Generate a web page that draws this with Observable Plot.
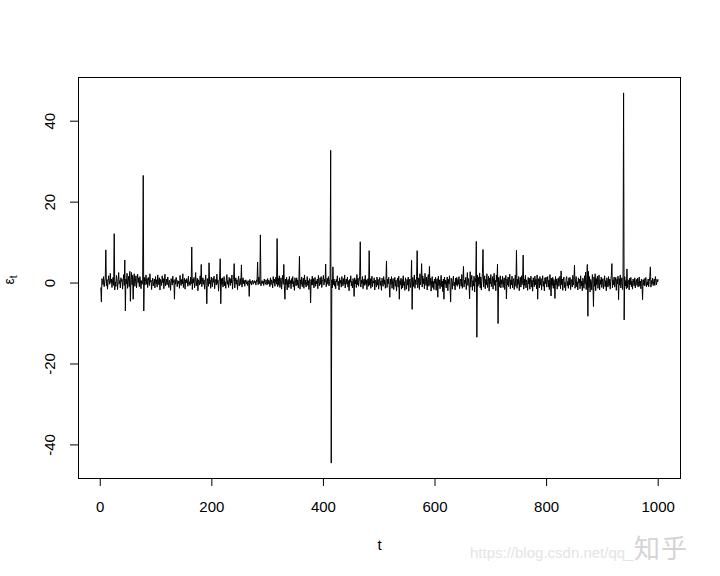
<!DOCTYPE html>
<html><head><meta charset="utf-8">
<script src="https://cdn.jsdelivr.net/npm/d3@7"></script>
<script src="https://cdn.jsdelivr.net/npm/@observablehq/plot@0.6"></script>
<style>
body{margin:0;background:#fff;}
#chart{position:relative;width:720px;height:576px;overflow:hidden;}
.wm1{position:absolute;left:470px;top:544px;font:15px "Liberation Sans",Arial,sans-serif;color:#e4e4e4;white-space:nowrap;}
.wm2{position:absolute;left:634px;top:528px;font:26px "Noto Sans CJK SC",sans-serif;color:#d4d4d4;white-space:nowrap;letter-spacing:1px;}
</style>
</head><body><div id="chart"></div>
<script>
// epsilon_t values, t = 1..1000
const eps = [
-1.2,-4.7,1.1,0.6,-0.4,1.6,-0.9,0.3,1.2,8.2,-0.7,0.9,-1.5,0.2,1.8,0.6,-0.3,2.4,0.1,1.0,
-1.1,0.5,1.4,-0.6,12.2,-1.7,0.3,-0.8,1.9,0.8,-1.6,0.4,2.6,-0.2,0.6,-1.2,1.3,0.4,0.9,-1.5,
0.7,2.1,-0.6,5.7,-6.9,1.0,-0.2,2.4,-1.3,0.4,1.7,-0.9,2.9,-4.5,0.8,2.6,-0.4,1.9,-4.0,1.2,
2.3,-0.8,0.5,1.8,-1.2,0.7,2.2,0.1,1.3,-0.9,1.6,0.5,-1.4,0.6,-0.3,0.5,26.6,-6.9,1.4,-0.5,
0.4,2.0,-0.3,1.1,-1.1,1.4,0.6,-0.6,2.3,0.2,0.7,-1.6,0.3,1.2,-0.7,0.2,1.0,-1.2,1.6,-0.2,
0.8,-1.0,2.0,0.5,-0.4,1.3,-1.7,0.9,0.4,-0.6,1.8,0.1,1.1,-1.4,0.5,2.2,-0.7,-0.2,1.0,-0.4,
1.5,0.2,-1.1,0.7,0.3,-1.8,1.1,0.5,-0.5,1.7,0.1,0.6,-4.0,0.9,-0.3,1.4,0.4,-0.9,0.6,-0.1,
0.5,-1.3,1.9,0.3,-0.6,0.9,-0.2,2.3,-1.1,0.4,1.2,-1.5,0.8,0.0,1.1,0.6,-0.8,1.7,-0.4,0.3,
-0.6,1.5,-0.2,8.9,-1.6,1.0,0.1,1.4,-1.2,0.5,2.6,-0.7,0.4,1.2,-1.9,0.8,0.3,-0.5,1.8,-0.2,
4.6,-0.9,0.5,1.3,-0.3,0.8,-1.5,0.2,2.0,-0.6,-5.1,1.1,0.4,-0.8,5.0,-0.2,0.8,-1.3,1.5,0.3,
-0.9,1.2,0.2,1.7,-1.4,0.5,0.9,-0.5,2.2,-0.1,0.7,-2.0,0.3,1.5,6.0,-5.1,1.1,-0.4,1.3,-1.0,
0.4,1.6,-0.7,0.3,-1.3,1.0,2.1,-0.3,0.6,-1.1,1.4,0.5,-0.6,1.1,0.0,2.0,-1.5,0.5,0.9,4.8,
-1.2,0.3,1.3,-0.3,0.8,-1.6,0.5,1.7,-0.7,0.2,1.1,-0.4,4.5,-1.0,0.5,1.3,-0.2,0.7,-0.8,0.2,
0.8,-0.2,0.4,-0.6,0.6,0.1,-3.3,0.9,-0.1,0.5,-0.5,0.3,0.7,-0.3,0.2,0.6,0.0,0.4,-0.5,0.8,
0.3,5.2,-0.4,1.5,0.5,-0.2,11.9,-0.7,0.4,0.6,-0.1,0.5,-0.6,1.0,0.2,-0.3,0.8,0.3,-0.5,1.1,
-0.2,0.7,0.4,-0.9,1.3,-0.4,0.8,0.3,-1.2,1.6,0.0,1.0,-0.8,0.5,1.5,-0.3,11.0,-0.9,1.2,-0.5,
1.8,-1.1,0.3,1.3,-1.5,0.5,1.9,-0.3,4.6,-0.7,-4.0,1.0,-0.4,1.4,-1.7,0.6,0.9,-1.1,1.6,-0.2,
0.6,-1.4,1.1,-0.2,1.6,-0.9,0.4,-1.8,1.3,0.2,-0.7,1.3,-0.5,0.8,-1.2,0.5,6.6,-1.5,0.8,-0.3,
1.5,-0.9,0.3,1.2,-1.3,2.0,-0.4,0.7,-1.0,0.4,1.6,-0.6,0.6,-1.6,1.1,0.3,-4.9,0.9,-0.5,1.7,
-0.5,1.1,-1.2,0.4,1.4,-0.8,0.5,-0.2,1.0,-1.4,1.9,0.2,-0.7,1.3,-0.3,1.6,-1.1,0.4,0.9,1.9,
-0.5,1.0,0.2,4.7,-0.9,0.6,1.2,-0.3,1.6,-0.7,0.4,1.3,32.8,-44.5,0.8,-1.2,4.0,-0.4,1.0,-0.8,
0.5,-1.4,0.9,0.3,1.8,-0.6,0.4,-1.7,1.3,-0.1,0.7,-1.0,1.6,0.4,-0.7,1.1,-0.3,2.0,-1.2,0.5,
1.0,-0.3,1.5,-1.0,0.6,-1.9,0.9,0.2,1.8,-0.7,0.4,-1.2,1.1,0.6,-3.3,1.3,-0.2,0.8,-1.1,2.1,
-0.4,1.2,-0.8,0.4,1.8,10.2,-1.0,0.7,-0.1,1.6,-1.4,0.5,1.0,-0.6,1.9,-0.3,0.8,-1.6,0.6,1.1,
-0.8,8.0,-0.5,1.1,-1.3,0.3,1.7,-0.9,0.5,0.0,1.3,-1.7,0.7,0.3,-1.0,1.5,-0.5,0.9,-1.5,0.4,
1.4,-0.6,0.5,-1.8,1.2,0.2,-0.8,1.6,-0.3,0.8,-1.3,0.6,5.4,-1.1,0.9,-0.2,1.4,-0.7,-3.5,1.0,
-0.3,1.6,-1.3,0.5,1.1,-1.6,0.3,1.4,-0.8,0.7,-2.0,0.4,1.2,-1.0,1.7,-4.0,0.6,-0.4,1.2,-1.5,
0.9,-1.2,1.8,-0.6,0.3,-1.8,1.3,0.1,-1.5,0.9,-0.5,1.5,-2.0,0.5,1.0,-1.1,0.2,5.6,-6.5,1.4,
-0.9,0.5,2.0,-1.3,0.8,-0.4,1.6,8.0,-1.2,0.3,1.3,-1.6,2.3,-0.4,0.7,4.8,-1.0,1.8,-0.2,1.1,
-1.4,2.4,0.4,-0.6,1.5,-1.7,0.9,2.1,-0.8,4.1,-0.4,1.2,-2.0,0.6,1.6,-1.1,0.4,-1.6,1.0,-0.1,
1.4,-1.8,0.5,1.1,-3.5,1.7,-0.6,0.8,-1.4,0.2,1.9,-0.9,0.5,-2.1,1.0,-4.0,1.5,-0.3,0.7,-1.2,
0.6,1.5,-1.9,0.9,-0.2,1.8,-1.1,-4.7,1.2,0.4,-1.5,0.7,1.7,-0.7,0.2,-1.7,1.2,-0.5,1.4,-0.8,
0.9,-0.3,1.6,-1.4,0.5,1.0,-0.8,2.1,-1.3,0.4,4.1,-1.0,0.7,-0.1,1.4,-1.6,0.5,2.6,-0.6,1.1,
-0.5,-3.9,2.8,-1.0,0.8,1.9,-1.8,0.6,-0.7,1.7,-2.2,1.1,0.3,10.3,-13.4,2.0,-0.8,1.4,-0.3,2.5,
-1.2,1.5,-1.7,0.6,2.4,8.3,-1.0,0.5,1.8,-1.4,0.9,-0.4,2.3,-1.1,0.3,1.7,-2.0,1.2,-0.2,2.1,
-0.9,0.4,1.6,-1.5,1.0,2.4,-0.6,0.7,-1.9,2.0,0.3,4.7,-10.0,1.4,-1.0,0.6,1.8,-1.2,0.8,-0.3,
1.7,-1.1,0.5,1.3,-1.6,0.7,1.9,-3.9,1.0,-0.5,1.5,-0.9,0.3,2.2,-1.4,0.8,-0.4,1.7,-1.2,0.5,
1.1,-1.6,0.6,2.0,-0.8,8.1,-1.3,0.9,-0.3,1.6,-1.9,0.5,1.4,-1.0,1.8,-0.4,0.7,6.9,-1.5,1.0,
-0.6,1.9,-1.2,0.8,0.2,-1.8,1.4,-0.2,1.2,-1.5,0.5,1.7,-1.0,0.7,-2.0,1.3,0.1,-0.9,1.7,-0.4,
0.9,-1.4,2.0,-4.0,1.1,0.3,-1.2,1.6,-0.5,1.1,-1.7,0.6,1.8,-0.8,0.4,-1.9,1.3,-0.1,1.5,-1.0,
0.5,1.6,-1.0,0.7,-1.6,2.1,0.3,-3.2,1.2,-0.6,1.4,-1.3,0.9,0.2,-3.8,1.6,-0.4,1.0,-1.5,0.6,
1.3,-0.8,0.3,1.7,-1.4,3.0,-0.4,1.0,-1.8,0.6,1.5,-1.1,0.2,-1.9,1.1,1.6,-0.7,0.4,-1.3,1.3,
-0.4,1.4,-1.6,0.9,0.3,-1.0,1.9,-0.5,0.7,4.4,-1.3,0.5,1.6,-0.9,0.3,-1.7,1.3,0.0,1.0,-1.4,
1.8,-0.7,0.5,-1.9,1.2,0.2,-1.3,1.8,-0.3,2.7,-1.6,0.8,4.6,-8.2,2.9,-1.1,1.6,-2.2,0.9,0.4,
-1.7,2.1,0.6,-5.8,1.5,-0.8,2.3,-1.9,1.1,-0.4,1.7,-1.3,0.4,2.0,-1.7,0.8,-0.3,1.5,-1.1,0.5,
1.1,-1.4,0.3,1.8,-0.9,0.6,-1.9,1.3,0.2,-1.0,1.6,-0.6,1.0,-1.5,0.5,1.9,4.8,-1.2,0.8,-0.4,
1.5,-1.0,0.4,1.4,-1.8,0.9,-0.2,1.7,-4.1,1.1,-0.5,2.0,-1.2,0.3,1.3,-1.6,0.7,47.0,-9.1,1.6,
-0.7,0.6,-1.4,3.5,-1.1,0.8,0.3,-1.7,1.2,-0.4,1.4,-0.9,0.5,-1.5,1.0,0.2,-0.7,1.3,-1.2,0.4,
0.9,-0.6,1.2,-1.0,0.3,1.5,-0.8,0.5,-1.4,1.0,0.2,-4.1,0.8,-0.5,1.1,-0.7,0.6,1.4,-0.9,0.3,
-0.5,1.0,-0.9,0.4,1.6,4.0,-1.0,0.6,-0.2,1.2,-0.6,0.4,1.0,-0.6,1.6,0.6,-0.4,0.9,0.3,0.8
];
const xTicks = [0, 200, 400, 600, 800, 1000];
const yTicks = [-40, -20, 0, 20, 40];
const xLabel = "t";

const data = eps.map((v, i) => ({t: i + 1, e: v}));

const plot = Plot.plot({
  width: 720, height: 576,
  marginLeft: 78, marginRight: 40, marginTop: 77, marginBottom: 98,
  style: {fontFamily: "'Liberation Sans', Arial, sans-serif", fontSize: "15px", background: "#fff", color: "#000"},
  x: {domain: [-39, 1040]},
  y: {domain: [-48.3, 50.8]},
  marks: [
    Plot.line(data, {x: "t", y: "e", stroke: "#000", strokeWidth: 1}),
    Plot.frame({stroke: "#000", strokeWidth: 1}),
    Plot.axisX({ticks: xTicks, tickSize: 8, tickPadding: 15, tickFormat: d => String(d), label: null, fontSize: 15}),
    Plot.axisY({ticks: yTicks, tickSize: 8, tickFormat: () => "", label: null}),
    Plot.text(yTicks, {y: d => d, text: d => String(d), frameAnchor: "left", dx: -28, rotate: -90, textAnchor: "middle", fontSize: 15}),
    Plot.text([xLabel], {text: d => d, frameAnchor: "bottom", dy: 71, fontSize: 15})
  ]
});
document.getElementById("chart").appendChild(plot);

// y-axis label: epsilon with subscript t
const svg = d3.select(plot);
const lab = svg.append("text")
  .attr("transform", "translate(14,280) rotate(-90)")
  .attr("text-anchor", "middle")
  .attr("font-family", "'Liberation Sans', Arial, sans-serif")
  .attr("font-size", 14)
  .attr("fill", "#000");
lab.append("tspan").text("ε");
lab.append("tspan").attr("font-size", 10).attr("dy", 3).text("t");

const wm1 = document.createElement("div"); wm1.className = "wm1"; wm1.textContent = "https://blog.csdn.net/qq_";
const wm2 = document.createElement("div"); wm2.className = "wm2"; wm2.textContent = "知乎";
document.getElementById("chart").appendChild(wm1);
document.getElementById("chart").appendChild(wm2);
</script>
</body></html>
